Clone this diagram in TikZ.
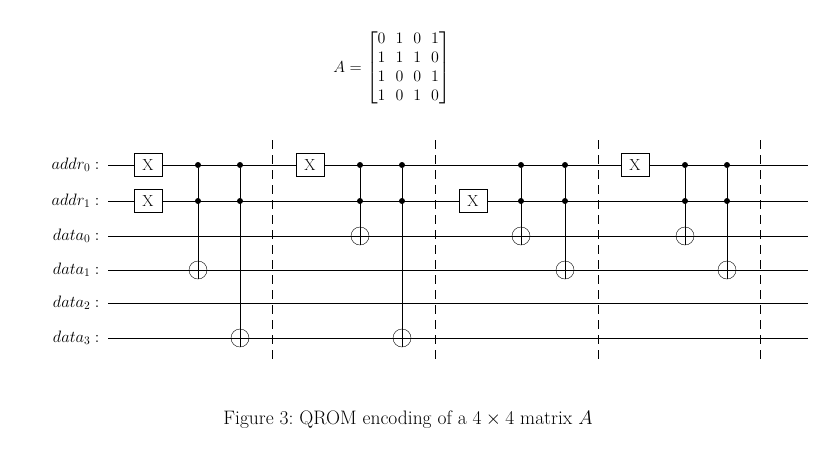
\RequirePackage{fix-cm}
\documentclass[tikz,border=0pt]{standalone}
\usepackage{amsmath}
\begin{document}
\begin{tikzpicture}[x=1pt,y=-1pt,
  wire/.style={line width=0.6pt},
  xgate/.style={draw,fill=white,minimum width=28pt,minimum height=23pt,inner sep=0pt,font=\fontsize{16}{19}\selectfont},
  ctrl/.style={circle,fill=black,inner sep=0pt,minimum size=6pt},
  targ/.style={circle,draw,fill=white,inner sep=0pt,minimum size=18pt},
  barrier/.style={dashed,line width=0.6pt,dash pattern=on 9pt off 6pt},
  lab/.style={anchor=east,font=\fontsize{16.5}{19}\selectfont}]
\useasboundingbox (0,0) rectangle (834,456);
\foreach \n/\y/\t in {a0/165/{addr_0},a1/201/{addr_1},d0/236/{data_0},d1/270/{data_1},d2/303/{data_2},d3/338/{data_3}}{
  \node[lab] (l\n) at (103,\y) {$\t:$};
  \coordinate (s\n) at (108,\y);
  \coordinate (e\n) at (808,\y);
  \draw[wire] (s\n) -- (e\n);
}
\foreach \x in {272,435,598,760}{
  \coordinate (bt\x) at (\x,140); \coordinate (bb\x) at (\x,362);
  \draw[barrier] (bt\x) -- (bb\x);
}
\node[xgate] (x1) at (148,165) {X};
\node[xgate] (x2) at (148,201) {X};
\node[xgate] (x3) at (310,165) {X};
\node[xgate] (x4) at (473,201) {X};
\node[xgate] (x5) at (635,165) {X};
\foreach \i/\x/\ty in {1/198/270,2/240/338,3/360/236,4/402/338,5/521/236,6/565/270,7/685/236,8/727/270}{
  \node[ctrl] (c\i a) at (\x,165) {};
  \node[ctrl] (c\i b) at (\x,201) {};
  \node[targ] (t\i) at (\x,\ty) {};
  \draw[wire] (c\i a) -- (t\i.south);
  \draw[wire] (t\i.west) -- (t\i.east);
}
\node[font=\fontsize{16}{19}\selectfont] (mat) at (392,68)
 {$A=\begin{bmatrix}0&1&0&1\\1&1&1&0\\1&0&0&1\\1&0&1&0\end{bmatrix}$};
\node[font=\fontsize{19.5}{23}\selectfont] (cap) at (408,420) {Figure 3:\ QROM encoding of a $4\times 4$ matrix $A$};
\end{tikzpicture}
\end{document}
